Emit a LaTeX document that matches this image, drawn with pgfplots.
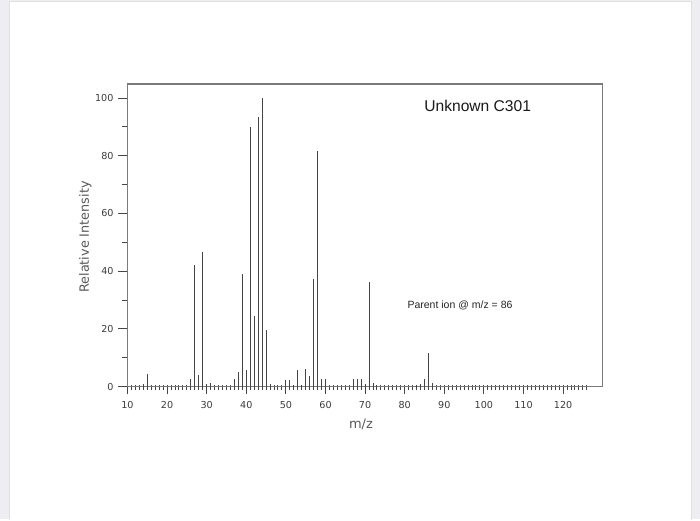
\documentclass[border=0pt]{standalone}
\usepackage{pgfplots}
\pgfplotsset{compat=1.18}
\usepackage{fontspec}
\setmainfont{DejaVu Sans}
\newfontfamily\arial{Liberation Sans}
\definecolor{bggray}{HTML}{EEEEF2}
\definecolor{boxgray}{HTML}{7A7A7A}
\definecolor{peakgray}{HTML}{454545}
\definecolor{labgray}{HTML}{3C3C3C}
\begin{document}
\begin{tikzpicture}[x=1pt,y=1pt]
\fill[bggray] (0,0) rectangle (700,519);
\fill[white] (9,0) rectangle (691,518);
\draw[black!12, line width=0.8pt] (9,-1) -- (9,518) -- (691,518) -- (691,-1);
\begin{axis}[
  at={(127.5pt,132.3pt)}, anchor=south west,
  scale only axis, width=475.2pt, height=302.7pt,
  xmin=10, xmax=130, ymin=0, ymax=104.85,
  axis line style={draw=boxgray, line width=1.2pt},
  tick pos=left,
  xtick={10,20,...,120},
  minor xtick={11,...,126},
  ytick={0,20,...,100},
  minor ytick={10,30,...,90},
  xtick align=outside, ytick align=outside,
  major tick length=9.5pt, minor tick length=5.5pt,
  tick style={draw=peakgray, line width=1pt},
  xtick style={yshift=2pt},
  ticklabel style={font=\fontsize{9.6}{10}\selectfont, text=labgray},
  /pgf/number format/assume math mode=true,
  xticklabel style={yshift=-2pt},
  yticklabel style={xshift=-1pt},
  clip=false,
]
\addplot[ycomb, draw=peakgray, line width=1.0pt, mark=none] coordinates {
(14,0.9) (15,4.4) (26,2.6) (27,42) (28,4) (29,46.5) (30,1) (31,1.3)
(37,2.6) (38,5) (39,39) (40,5.8) (41,90) (42,24.5) (43,93.5) (44,100) (45,19.7) (46,1)
(50,2.3) (51,2.3) (52,0.6) (53,5.8) (54,0.6) (55,6.1) (56,3.6) (57,37.2) (58,81.8) (59,2.7) (60,2.5)
(67,2.5) (68,2.8) (69,2.8) (70,0.8) (71,36.2) (72,1.4) (73,0.6)
(83,0.6) (84,1) (85,2.6) (86,11.8) (87,1.4)
};
\end{axis}
\draw[boxgray, line width=1.2pt] (127.5,435) -- (602.7,435) -- (602.7,132.3);
\node[font=\arial\fontsize{15.6}{17}\selectfont, text=black!90] at (477.7,412.7) {Unknown C301};
\node[font=\arial\fontsize{10.5}{12}\selectfont, text=black!85] at (460,213.3) {Parent ion @ m/z = 86};
\node[rotate=90, font=\fontsize{12.8}{14}\selectfont, text=black!65] at (85.3,282) {Relative Intensity};
\node[font=\fontsize{13}{14}\selectfont, text=black!65] at (361,95) {m/z};
\end{tikzpicture}
\end{document}
